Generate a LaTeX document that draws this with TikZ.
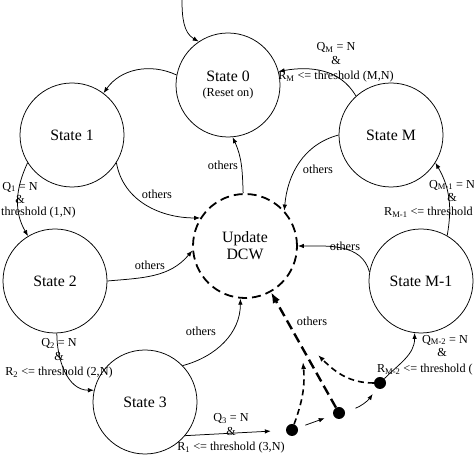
\documentclass[tikz,border=0pt]{standalone}
\usepackage{fontspec}
\setmainfont{Liberation Serif}
\usetikzlibrary{arrows.meta}

\begin{document}
\begin{tikzpicture}[
        x=1pt, y=1pt,
        >={Latex[length=6pt,width=4.5pt]},
        % circles for the states
        statebox/.style={
            circle, draw, line width=0.75pt,
            minimum size=104pt, inner sep=0pt,
            align=center, font=\fontsize{15.8}{17}\selectfont
        },
        dcwbox/.style={statebox, line width=1.8pt, dash pattern=on 9pt off 5pt},
        blob/.style={circle, fill, minimum size=12pt, inner sep=0pt},
        trans/.style={->, line width=0.75pt},
        bigdash/.style={-{Latex[length=11pt,width=8pt]}, line width=2.4pt, dash pattern=on 10pt off 5pt},
        smalldash/.style={-{Latex[length=7pt,width=5pt]}, line width=1.6pt, dash pattern=on 6pt off 4pt},
        lbl/.style={font=\fontsize{12.3}{14}\selectfont, inner sep=1pt},
        cond/.style={font=\fontsize{12.2}{14.5}\selectfont, inner sep=1pt, align=center}
    ]
    \useasboundingbox (0,0) rectangle (474,457);

        % ==========================
        % STATES
        % ==========================
        \node[statebox] (s0)  at (228, 372) {State 0\\[-2pt]{\fontsize{12.3}{14}\selectfont (Reset on)}};
        \node[statebox] (s1)  at (72, 322)  {State 1};
        \node[statebox] (sM)  at (391, 322) {State M};
        \node[dcwbox]   (dcw) at (245, 211) {Update\\DCW};
        \node[statebox] (s2)  at (55, 176)  {State 2};
        \node[statebox] (sM1) at (421, 176) {State M-1};
        \node[statebox] (s3)  at (145, 55)  {State 3};

        % intermediate states
        \node[blob] (d1) at (292, 27) {};
        \node[blob] (d2) at (339, 44) {};
        \node[blob] (d3) at (380, 74) {};

        % ==========================
        % TRANSITIONS
        % ==========================
        \coordinate (init) at (182, 457);
        \draw[trans] (init) to[out=-90, in=150] (s0.124);

        \draw[trans] (s0.169) to[out=155, in=55] (s1.53);
        \draw[trans] (s1.212) to[out=245, in=120] (s2.121);
        \draw[trans] (s1.-32) to[out=-80, in=180] (dcw.148);
        \draw[trans] (s2.0) to[out=5, in=230] (dcw.185);
        \draw[trans] (s2.-88) to[out=-90, in=180] (s3.167);
        \draw[trans] (s3.44) to[out=15, in=-90] (dcw.265);
        \draw[trans, shorten >=15pt] (s3.-40) -- (d1);
        \draw[trans, shorten <=8pt, shorten >=9pt] (d1) -- (d2);
        \draw[trans, shorten <=11pt, shorten >=7pt] (d2) to[bend right=20] (d3);
        \draw[trans] (d3) to[out=45, in=-90] (sM1.263);
        \draw[trans] (sM1.170) to[out=105, in=0] (dcw.0);
        \draw[trans] (sM1.60) to[out=80, in=-60] (sM.-32);
        \draw[trans] (sM.180) to[out=195, in=85] (dcw.42);
        \draw[trans] (sM.132) to[out=120, in=10] (s0.15);
        \draw[trans] (dcw.92) to[out=92, in=-65] (s0.-85);

        % others from the intermediate states
        \coordinate (m1) at (303, 95);
        \coordinate (m3) at (318, 102);
        \draw[bigdash] (d2) -- (dcw);
        \draw[smalldash] (d1) to[out=70, in=-85] (m1);
        \draw[smalldash] (d3) to[out=180, in=-45] (m3);

        % ==========================
        % LABELS
        % ==========================
        \node[lbl] (o1)  at (157, 263) {others};
        \node[lbl] (o2)  at (150, 192) {others};
        \node[lbl] (o0)  at (223, 292) {others};
        \node[lbl] (oM)  at (318, 288) {others};
        \node[lbl] (oM1) at (345, 211) {others};
        \node[lbl] (o3)  at (201, 126) {others};
        \node[lbl] (od)  at (312, 136) {others};

        \node[cond] (cM) at (336, 395) {Q\textsubscript{M} = N\\\&\\R\textsubscript{M} <= threshold (M,N)};
        \node[cond] (c2) at (59, 99)   {Q\textsubscript{2} = N\\\&\\R\textsubscript{2} <= threshold (2,N)};
        \node[cond] (c3) at (231, 24)  {Q\textsubscript{3} = N\\\&\\R\textsubscript{1} <= threshold (3,N)};

        % labels cut by the edge of the picture
        \node[cond] (c1a) at (20, 270) {Q\textsubscript{1} = N};
        \node[cond] (c1b) at (20, 257) {\&};
        \node[cond, anchor=west] (c1c) at (0, 244) {threshold (1,N)};

        \node[cond] (cM1a) at (452, 272) {Q\textsubscript{M-1} = N};
        \node[cond] (cM1b) at (452, 259) {\&};
        \node[cond, anchor=east] (cM1c) at (474, 245) {R\textsubscript{M-1} <= threshold};

        \node[cond] (cM2a) at (445, 117) {Q\textsubscript{M-2} = N};
        \node[cond] (cM2b) at (442, 104) {\&};
        \node[cond, anchor=east] (cM2c) at (474, 87) {R\textsubscript{M-2} <= threshold (};

\end{tikzpicture}
\end{document}
